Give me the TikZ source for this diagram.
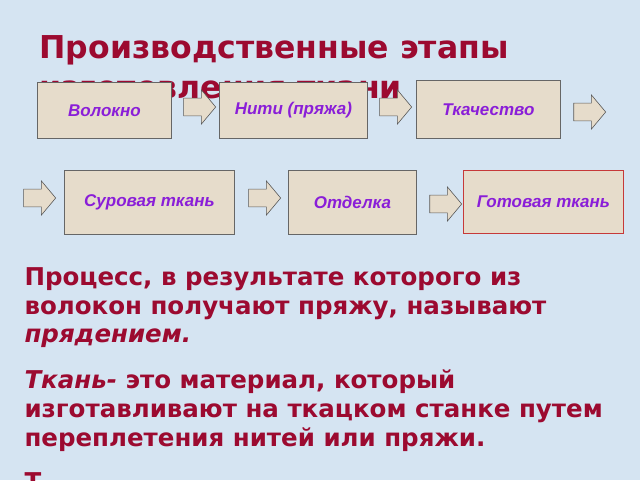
\documentclass[tikz,border=0pt]{standalone}
\usepackage{fontspec}
\setmainfont{DejaVu Sans}
\newfontfamily\boxfont{Liberation Sans}
\usetikzlibrary{positioning, shapes.arrows}
\definecolor{bgblue}{HTML}{D5E4F2}
\definecolor{titlered}{HTML}{9C0A30}
\definecolor{boxfill}{HTML}{E6DCCB}
\definecolor{boxtext}{HTML}{8A1ED8}

\tikzset{
  stage/.style = {draw=gray!80!black, fill=boxfill, line width=0.8pt, minimum height=56pt,
                  font=\boxfont\bfseries\itshape\fontsize{17}{19}\selectfont, text=boxtext, anchor=north west},
  flow/.style  = {single arrow, draw=gray!70!black, fill=boxfill, line width=0.6pt,
                  minimum height=32pt, minimum width=34pt, single arrow head extend=4pt,
                  single arrow tip angle=100, inner sep=4pt},
  body/.style  = {anchor=base west, text=titlered, font=\bfseries\fontsize{24.5}{27}\selectfont}
}

\begin{document}
\begin{tikzpicture}[x=1pt, y=-1pt]
  \useasboundingbox (0,0) rectangle (640,480);
  \fill[bgblue] (0,0) rectangle (640,480);
  \clip (0,0) rectangle (640,480);

  % title
  \node[body, font=\bfseries\fontsize{31.5}{34}\selectfont] (title1) at (36,58) {Производственные этапы};
  \node[body, font=\bfseries\fontsize{31.5}{34}\selectfont] (title2) at (36,98) {изготовления ткани};

  % first row
  \node[stage, minimum width=134pt] (fibre) at (37,82) {Волокно};
  \node[stage, minimum width=148pt] (yarn) at (219,82) {Нити (пряжа)};
  \node[stage, minimum width=144pt, minimum height=58pt] (weave) at (416,80) {Ткачество};
  \node[flow] (a1) at (196,107) {};
  \node[flow] (a2) at (392,107) {};
  \node[flow] (a3) at (586,112) {};

  % second row
  \node[flow] (a4) at (36,198) {};
  \node[stage, minimum width=170pt, minimum height=64pt] (grey) at (64,170) {Суровая ткань};
  \node[flow] (a5) at (261,198) {};
  \node[stage, minimum width=128pt, minimum height=64pt] (finish) at (288,170) {Отделка};
  \node[flow] (a6) at (442,204) {};
  \node[stage, draw=red!55!gray, minimum width=160pt, minimum height=63pt] (ready) at (463,170) {Готовая ткань};

  % text
  \node[body] (l1) at (21,285) {Процесс, в результате которого из};
  \node[body] (l2) at (21,314) {волокон получают пряжу, называют};
  \node[body] (l3) at (21,342) {\itshape прядением.};
  \node[body] (l4) at (21,388) {\itshape Ткань-\upshape{} это материал, который};
  \node[body] (l5) at (21,417) {изготавливают на ткацком станке путем};
  \node[body] (l6) at (21,446) {переплетения нитей или пряжи.};
  \node[body] (l7) at (21,490) {Т};
\end{tikzpicture}
\end{document}
